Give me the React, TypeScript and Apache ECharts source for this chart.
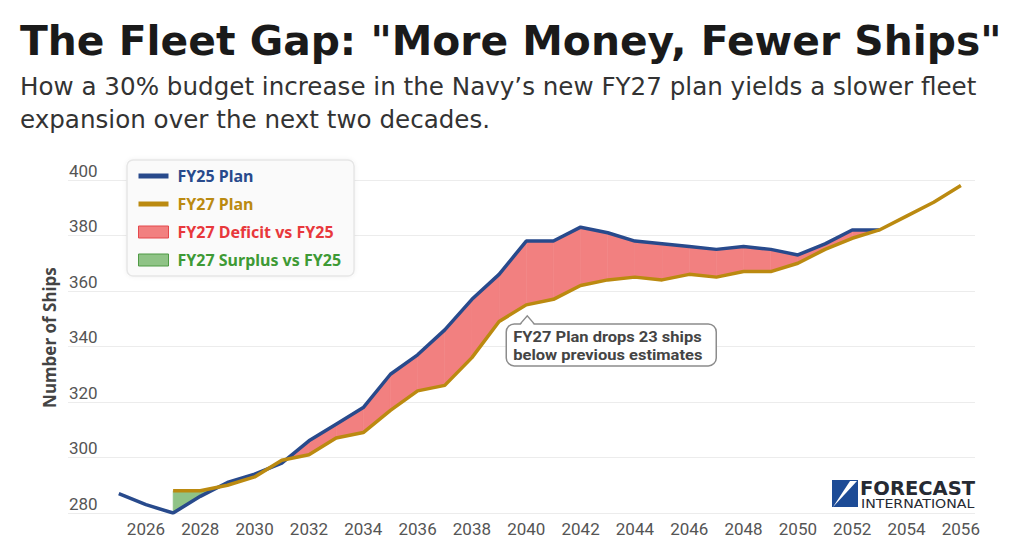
import React, { useEffect, useRef } from "react";
import * as echarts from "echarts";

const years = [
  2025, 2026, 2027, 2028, 2029, 2030, 2031, 2032, 2033, 2034, 2035, 2036, 2037, 2038, 2039, 2040,
  2041, 2042, 2043, 2044, 2045, 2046, 2047, 2048, 2049, 2050, 2051, 2052, 2053, 2054, 2055, 2056,
];
const fy25Plan: (number | null)[] = [
  287, 283, 280, 286, 291, 294, 298, 306, 312, 318, 330, 337, 346, 357, 366, 378,
  378, 383, 381, 378, 377, 376, 375, 376, 375, 373, 377, 382, 382, null, null, null,
];
const fy27Plan: (number | null)[] = [
  null, null, 288, 288, 290, 293, 299, 301, 307, 309, 317, 324, 326, 336, 349, 355,
  357, 362, 364, 365, 364, 366, 365, 367, 367, 370, 375, 379, 382, 387, 392, 398,
];
const xTickLabels = [2026, 2028, 2030, 2032, 2034, 2036, 2038, 2040, 2042, 2044, 2046, 2048, 2050, 2052, 2054, 2056];
const yMin = 280;
const yMax = 400;
const yStep = 20;
const calloutYear = 2040;
const calloutLines = ["FY27 Plan drops 23 ships", "below previous estimates"];

const NAVY = "#284a8c";
const GOLD = "#bb8a10";
const RED_FILL = "#f28080";
const RED_TEXT = "#e8383c";
const GREEN_FILL = "#8fc386";
const GREEN_TEXT = "#3e9a35";

export default function App() {
  const ref = useRef<HTMLDivElement>(null);

  useEffect(() => {
    document.body.style.margin = "0";
    const chart = echarts.init(ref.current!, null, { renderer: "svg" });

    const both = (i: number) => fy25Plan[i] != null && fy27Plan[i] != null;
    const pairs = (arr: (number | null)[]) => years.map((y, i) => [y, arr[i] == null ? null : arr[i]]);

    // one segment per pair of consecutive years where both plans exist
    const segments: number[][] = [];
    for (let i = 0; i < years.length - 1; i++) {
      if (both(i) && both(i + 1)) {
        segments.push([years[i], years[i + 1], fy25Plan[i]!, fy25Plan[i + 1]!, fy27Plan[i]!, fy27Plan[i + 1]!]);
      }
    }

    const gapRenderer = (sign: number, color: string) => (params: any, api: any) => {
      const x0 = api.value(0), x1 = api.value(1);
      const a0 = api.value(2), a1 = api.value(3);
      const b0 = api.value(4), b1 = api.value(5);
      const d0 = (a0 - b0) * sign;
      const d1 = (a1 - b1) * sign;
      if (d0 <= 0 && d1 <= 0) return null;
      let pts: number[][];
      if (d0 >= 0 && d1 >= 0) {
        pts = [[x0, a0], [x1, a1], [x1, b1], [x0, b0]];
      } else {
        const t = d0 / (d0 - d1);
        const xc = x0 + t * (x1 - x0);
        const yc = a0 + t * (a1 - a0);
        pts = d0 > 0 ? [[x0, a0], [xc, yc], [x0, b0]] : [[xc, yc], [x1, a1], [x1, b1]];
      }
      return {
        type: "polygon",
        shape: { points: pts.map((p) => api.coord(p)) },
        style: { fill: color, stroke: color, lineWidth: 0.6 },
      };
    };

    const legendFont = { fontFamily: "Noto Sans", fontWeight: "bold" as const, fontSize: 16, padding: [0, 0, 0, 4] };

    chart.setOption({
      animation: false,
      grid: { left: 68, right: 49, top: 180, bottom: 46, containLabel: false },
      legend: {
        left: 127,
        top: 160,
        orient: "vertical",
        itemWidth: 30,
        itemHeight: 12,
        itemGap: 12,
        padding: [8, 13, 8, 11],
        backgroundColor: "#fafafa",
        borderColor: "#e6e6e6",
        borderWidth: 1.5,
        borderRadius: 6,
        shadowBlur: 4,
        shadowColor: "rgba(0,0,0,0.06)",
        selectedMode: false,
        textStyle: legendFont,
        data: [
          { name: "FY25 Plan", icon: "path://M0,0H30V5H0Z", textStyle: { ...legendFont, color: NAVY } },
          { name: "FY27 Plan", icon: "path://M0,0H30V5H0Z", textStyle: { ...legendFont, color: GOLD } },
          {
            name: "FY27 Deficit vs FY25",
            icon: "rect",
            itemStyle: { color: RED_FILL, borderColor: "#e4484c", borderWidth: 1 },
            textStyle: { ...legendFont, color: RED_TEXT },
          },
          {
            name: "FY27 Surplus vs FY25",
            icon: "rect",
            itemStyle: { color: GREEN_FILL, borderColor: "#4f9a45", borderWidth: 1 },
            textStyle: { ...legendFont, color: GREEN_TEXT },
          },
        ],
      },
      xAxis: {
        type: "value",
        min: 2023.13,
        max: 2056.52,
        axisLine: { show: false },
        axisTick: { show: false },
        splitLine: { show: false },
        axisLabel: {
          customValues: xTickLabels,
          formatter: (v: number) => String(v),
          fontFamily: "Roboto",
          fontSize: 17,
          color: "#555",
          margin: 7,
        },
      },
      yAxis: {
        type: "value",
        min: yMin,
        max: yMax,
        interval: yStep,
        name: "Number of Ships",
        nameLocation: "middle",
        nameGap: 8,
        nameTextStyle: {
          fontFamily: "Noto Sans",
          fontWeight: "bold",
          fontSize: 17,
          color: "#444",
          padding: [0, 0, 0, 18],
        },
        axisLine: { show: false },
        axisTick: { show: false },
        axisLabel: {
          inside: true,
          margin: 1,
          verticalAlign: "bottom",
          fontFamily: "Roboto",
          fontSize: 17,
          color: "#555",
          padding: [0, 0, 1, 0],
        },
        splitLine: { lineStyle: { color: "#ececec", width: 1 } },
      },
      series: [
        {
          type: "custom",
          name: "FY27 Deficit vs FY25",
          data: segments,
          encode: { x: [0, 1], y: [2, 3, 4, 5] },
          itemStyle: { color: RED_FILL },
          renderItem: gapRenderer(1, RED_FILL),
          silent: true,
          z: 1,
        },
        {
          type: "custom",
          name: "FY27 Surplus vs FY25",
          data: segments,
          encode: { x: [0, 1], y: [2, 3, 4, 5] },
          itemStyle: { color: GREEN_FILL },
          renderItem: gapRenderer(-1, GREEN_FILL),
          silent: true,
          z: 1,
        },
        {
          type: "line",
          name: "FY25 Plan",
          data: pairs(fy25Plan),
          symbol: "none",
          color: NAVY,
          lineStyle: { width: 3.5, color: NAVY },
          z: 3,
        },
        {
          type: "line",
          name: "FY27 Plan",
          data: pairs(fy27Plan),
          symbol: "none",
          color: GOLD,
          lineStyle: { width: 3.5, color: GOLD },
          z: 4,
        },
      ],
    });

    const ci = years.indexOf(calloutYear);
    const p = chart.convertToPixel({ gridIndex: 0 }, [calloutYear, fy27Plan[ci] as number]) as number[];
    const tx = p[0] + 1;
    const ty = p[1] + 11;

    const calloutTexts = calloutLines.map((line, k) => ({
      type: "text",
      x: tx - 14,
      y: ty + 20.5 + k * 18,
      scaleX: 1.1,
      style: {
        text: line,
        fontFamily: "Roboto",
        fontWeight: "bold",
        fontSize: 15,
        lineHeight: 15,
        fill: "#444",
        verticalAlign: "middle",
      },
      z: 103,
    }));

    chart.setOption({
      graphic: [
        {
          type: "text",
          left: 20,
          top: 20,
          style: {
            text: 'The Fleet Gap: "More Money, Fewer Ships"',
            fontFamily: "DejaVu Sans",
            fontWeight: "bold",
            fontSize: 40.8,
            fill: "#1a1a1a",
          },
        },
        {
          type: "text",
          x: 20,
          y: 86,
          style: {
            text: "How a 30% budget increase in the Navy’s new FY27 plan yields a slower fleet",
            fontFamily: "DejaVu Sans",
            fontSize: 24.6,
            fill: "#333",
            verticalAlign: "middle",
          },
        },
        {
          type: "text",
          x: 20,
          y: 119.5,
          style: {
            text: "expansion over the next two decades.",
            fontFamily: "DejaVu Sans",
            fontSize: 24.6,
            fill: "#333",
            verticalAlign: "middle",
          },
        },
        {
          type: "rect",
          shape: { x: tx - 21, y: ty + 8, width: 210, height: 42, r: 8 },
          style: { fill: "#fff", stroke: "#8c8c8c", lineWidth: 1.5 },
          z: 100,
        },
        {
          type: "polygon",
          shape: { points: [[tx - 7, ty + 9.6], [tx, ty], [tx + 7, ty + 9.6]] },
          style: { fill: "#fff" },
          z: 101,
        },
        {
          type: "polyline",
          shape: { points: [[tx - 7, ty + 8], [tx, ty], [tx + 7, ty + 8]] },
          style: { stroke: "#8c8c8c", lineWidth: 1.5, fill: null },
          z: 102,
        },
        ...calloutTexts,
        {
          type: "rect",
          shape: { x: 832, y: 480, width: 26, height: 27 },
          style: { fill: "#1d4b96" },
          z: 100,
        },
        {
          type: "polygon",
          shape: { points: [[833, 507], [850, 481], [857, 481]] },
          style: { fill: "#fff" },
          z: 101,
        },
        {
          type: "text",
          x: 860,
          y: 488.5,
          style: {
            text: "FORECAST",
            fontFamily: "DejaVu Sans",
            fontWeight: "bold",
            fontSize: 19.5,
            lineHeight: 15,
            fill: "#262a33",
            verticalAlign: "middle",
          },
          z: 100,
        },
        {
          type: "text",
          x: 861,
          y: 503.5,
          scaleX: 1.18,
          style: {
            text: "INTERNATIONAL",
            fontFamily: "DejaVu Sans",
            fontSize: 12,
            lineHeight: 9,
            fill: "#262a33",
            verticalAlign: "middle",
          },
          z: 100,
        },
      ],
    });

    return () => chart.dispose();
  }, []);

  return <div ref={ref} style={{ width: 1024, height: 559 }} />;
}
